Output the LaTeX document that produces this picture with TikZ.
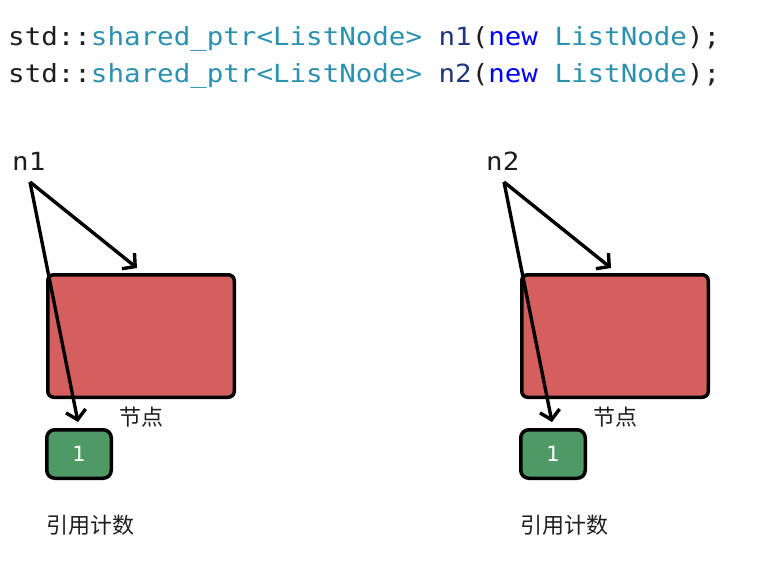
\documentclass[tikz,border=0pt]{standalone}
\usepackage{fontspec}
\usetikzlibrary{arrows.meta}
\newfontfamily\codefont[FakeStretch=1.1]{DejaVu Sans Mono}
\newfontfamily\cjkfont{Noto Sans CJK SC}
\newfontfamily\numfont{DejaVu Sans}
\definecolor{typecol}{HTML}{2B91AF}
\definecolor{varcol}{HTML}{1F377F}
\definecolor{kwcol}{HTML}{0000FF}
\definecolor{txtcol}{HTML}{1E1E1E}
\definecolor{nodered}{HTML}{D45F5E}
\definecolor{countgreen}{HTML}{4F9965}
\tikzset{
  codetext/.style={anchor=base west, inner sep=0pt, text=txtcol, font=\codefont\fontsize{25}{30}\selectfont},
  ptrlabel/.style={anchor=base west, inner sep=0pt, text=txtcol, font=\codefont\fontsize{25}{30}\selectfont},
  objbox/.style={draw=black, line width=3.5pt, rounded corners=6pt, fill=nodered, inner sep=0pt, outer sep=0pt, anchor=north west, minimum width=186.5pt, minimum height=122.5pt},
  cntbox/.style={draw=black, line width=3.5pt, rounded corners=8pt, fill=countgreen, inner sep=0pt, outer sep=0pt, anchor=north west, minimum width=64.5pt, minimum height=48.5pt, text=white, font=\numfont\fontsize{21}{25}\selectfont},
  cjklabel/.style={inner sep=0pt, text=txtcol, font=\cjkfont\fontsize{22}{26}\selectfont},
  ptrarrow/.style={draw=black, line width=3.4pt, -{Straight Barb[length=9pt,width=20pt,line width=3.4pt]}}
}
\begin{document}
\begin{tikzpicture}[x=1pt,y=-1pt]
\useasboundingbox[fill=white] (0,0) rectangle (766,576);
\node[codetext] (code1) at (8,45) {std::\textcolor{typecol}{shared\_ptr<ListNode>} \textcolor{varcol}{n1}(\textcolor{kwcol}{new} \textcolor{typecol}{ListNode});};
\node[codetext] (code2) at (8,82) {std::\textcolor{typecol}{shared\_ptr<ListNode>} \textcolor{varcol}{n2}(\textcolor{kwcol}{new} \textcolor{typecol}{ListNode});};
\foreach \i/\dx in {1/0,2/474} {
  \node[ptrlabel] (lab\i) at (12+\dx,170) {n\i};
  \node[objbox] (obj\i) at (47.75+\dx,274.75) {};
  \node[cntbox] (cnt\i) at (46.75+\dx,429.75) {1};
  \node[cjklabel] (objtxt\i) at (141+\dx,417.5) {节点};
  \node[cjklabel] (cnttxt\i) at (90+\dx,525.5) {引用计数};
  \coordinate (start\i) at (30+\dx,182);
  \coordinate (objtip\i) at (137+\dx,268);
  \coordinate (cnttip\i) at (78+\dx,422);
  \draw[ptrarrow] (start\i) -- (objtip\i);
  \draw[ptrarrow] (start\i) -- (cnttip\i);
}
\end{tikzpicture}
\end{document}
